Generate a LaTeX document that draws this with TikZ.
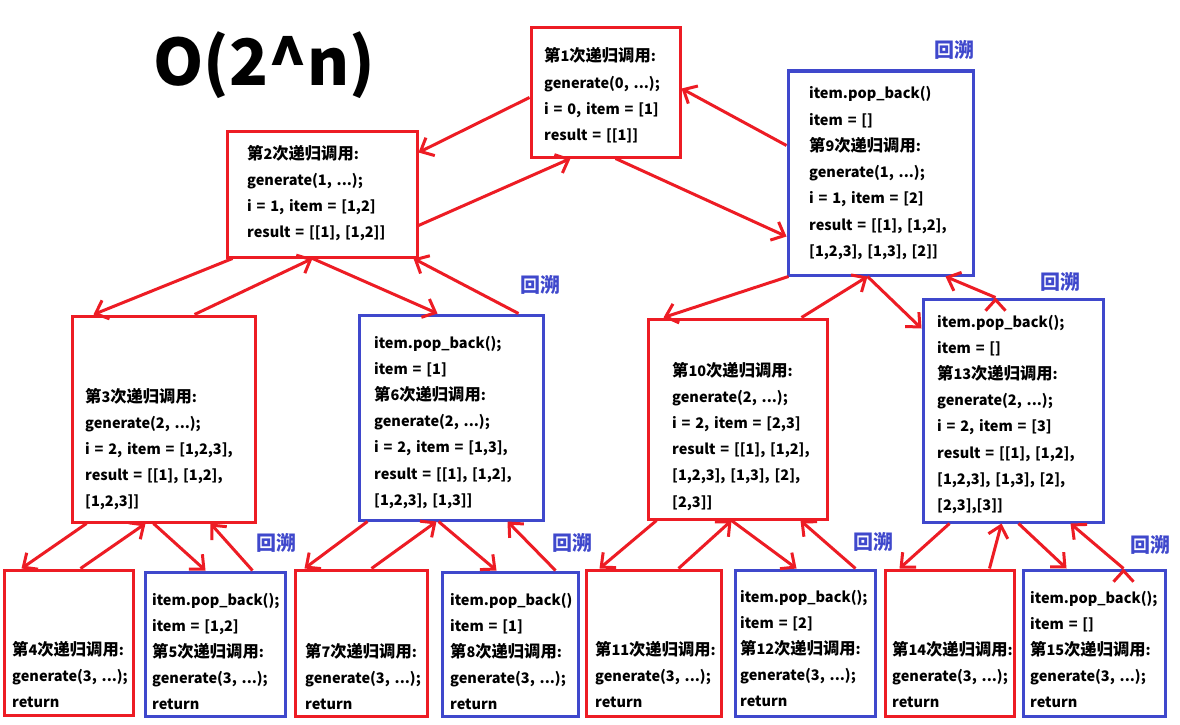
\documentclass[tikz,border=0pt]{standalone}
\usepackage{fontspec}
\setmainfont{Noto Sans CJK SC}
\usetikzlibrary{arrows.meta}
\definecolor{pred}{RGB}{237,28,36}
\definecolor{pblue}{RGB}{63,72,204}

% box of one call: name, style, x1, y1, x2, y2, text x, first line y, text
\newcommand{\callbox}[9]{%
  \node[#2, minimum width={#5-#3}, minimum height={#6-#4}] (#1) at ({(#3+#5)/2},{(#4+#6)/2}) {};
  \node[txt, anchor=base west] (#1t) at (#7,{#8+5}) {#9};
}
\newcommand{\zhbig}{\fontsize{16.3}{26.2}\selectfont}
\newcommand{\callno}[1]{{\zhbig 第}#1{\zhbig 次递归调用}:}

\begin{document}
\begin{tikzpicture}[x=1pt, y=-1pt,
  redbox/.style={draw=pred, line width=3pt, inner sep=0pt, fill=white},
  bluebox/.style={draw=pblue, line width=3pt, inner sep=0pt, fill=white},
  txt/.style={inner sep=0pt, text width=220pt, align=left, font=\fontsize{14.5}{26.2}\selectfont\bfseries},
  back/.style={text=pblue, inner sep=0pt, font=\fontsize{20}{20}\selectfont\bfseries},
  arr/.style={draw=pred, line width=3pt, -{Straight Barb[length=11pt,width=20pt]}}]
\useasboundingbox[fill=white] (0,0) rectangle (1180,725);

\node[inner sep=0pt, anchor=base west, font=\fontsize{64}{64}\selectfont\bfseries] (bigo) at (153,85) {O(2\textasciicircum n)};

% first and second level
\callbox{c1}{redbox}{531}{28}{680}{157}{544}{57}{\callno{1}\\generate(0, ...);\\i = 0, item = [1]\\result = [[1]]}
\callbox{c2}{redbox}{227}{131}{417}{257}{247}{154}{\callno{2}\\generate(1, ...);\\i = 1, item = [1,2]\\result = [[1], [1,2]]}
\callbox{c9}{bluebox}{788}{71}{973}{275}{809}{94}{item.pop\_back()\\item = []\\\callno{9}\\generate(1, ...);\\i = 1, item = [2]\\result = [[1], [1,2],\\{}[1,2,3], [1,3], [2]]}

% third level
\callbox{c3}{redbox}{72}{316}{255}{522}{85}{397}{\callno{3}\\generate(2, ...);\\i = 2, item = [1,2,3],\\result = [[1], [1,2],\\{}[1,2,3]]}
\callbox{c6}{bluebox}{359}{315}{543}{520}{374}{343}{item.pop\_back();\\item = [1]\\\callno{6}\\generate(2, ...);\\i = 2, item = [1,3],\\result = [[1], [1,2],\\{}[1,2,3], [1,3]]}
\callbox{c10}{redbox}{648}{319}{827}{519}{672}{371}{\callno{10}\\generate(2, ...);\\i = 2, item = [2,3]\\result = [[1], [1,2],\\{}[1,2,3], [1,3], [2],\\{}[2,3]]}
\callbox{c13}{bluebox}{923}{299}{1103}{522}{937}{322}{item.pop\_back();\\item = []\\\callno{13}\\generate(2, ...);\\i = 2, item = [3]\\result = [[1], [1,2],\\{}[1,2,3], [1,3], [2],\\{}[2,3],[3]]}

% leaves
\callbox{c4}{redbox}{4}{570}{133}{715}{12}{650}{\callno{4}\\generate(3, ...);\\return}
\callbox{c5}{bluebox}{145}{572}{285}{716}{152}{600}{item.pop\_back();\\item = [1,2]\\\callno{5}\\generate(3, ...);\\return}
\callbox{c7}{redbox}{295}{570}{427}{716}{305}{652}{\callno{7}\\generate(3, ...);\\return}
\callbox{c8}{bluebox}{442}{572}{578}{716}{450}{600}{item.pop\_back()\\item = [1]\\\callno{8}\\generate(3, ...);\\return}
\callbox{c11}{redbox}{586}{570}{721}{716}{595}{650}{\callno{11}\\generate(3, ...);\\return}
\callbox{c12}{bluebox}{735}{570}{875}{716}{740}{597}{item.pop\_back();\\item = [2]\\\callno{12}\\generate(3, ...);\\return}
\callbox{c14}{redbox}{885}{570}{1014}{716}{892}{650}{\callno{14}\\generate(3, ...);\\return}
\callbox{c15}{bluebox}{1023}{570}{1165}{716}{1030}{598}{item.pop\_back();\\item = []\\\callno{15}\\generate(3, ...);\\return}

% backtracking marks
\node[back] (h9) at (954,50) {回溯};
\node[back] (h6) at (540,285) {回溯};
\node[back] (h13) at (1060,282) {回溯};
\node[back] (h5) at (276,543) {回溯};
\node[back] (h8) at (572,543) {回溯};
\node[back] (h12) at (873,542) {回溯};
\node[back] (h15) at (1150,545) {回溯};

\path[arr]
  ([yshift=-71]c1.north west) edge ([yshift=-23]c2.north east)
  ([yshift=-96]c2.north east) edge ([xshift=41]c1.south west)
  ([xshift=86]c1.south west) edge ([yshift=-167]c9.north west)
  ([yshift=-76]c9.north west) edge ([yshift=-62]c1.north east)
  ([xshift=7]c2.south west) edge ([xshift=23]c3.north west)
  ([xshift=124]c3.north west) edge ([xshift=87]c2.south west)
  ([xshift=87]c2.south west) edge ([xshift=80]c6.north west)
  ([xshift=161]c6.north west) edge ([xshift=-5]c2.south east)
  ([xshift=2]c9.south west) edge ([xshift=17]c10.north west)
  ([xshift=155]c10.north west) edge ([xshift=81]c9.south west)
  ([xshift=81]c9.south west) edge ([yshift=-31]c13.north west)
  ([xshift=74]c13.north west) edge ([xshift=159]c9.south west);
\path[arr]
  ([xshift=16]c3.south west) edge ([xshift=19]c4.north west)
  ([xshift=78]c4.north west) edge ([xshift=75]c3.south west)
  ([xshift=83]c3.south west) edge ([xshift=62]c5.north west)
  ([xshift=109]c5.north west) edge ([xshift=140]c3.south west)
  ([xshift=10]c6.south west) edge ([xshift=11]c7.north west)
  ([xshift=78]c7.north west) edge ([xshift=79]c6.south west)
  ([xshift=81]c6.south west) edge ([xshift=56]c8.north west)
  ([xshift=115]c8.north west) edge ([xshift=150]c6.south west)
  ([xshift=10]c10.south west) edge ([xshift=15]c11.north west)
  ([xshift=94]c11.north west) edge ([xshift=85]c10.south west)
  ([xshift=85]c10.south west) edge ([xshift=63]c12.north west)
  ([xshift=122]c12.north west) edge ([xshift=154]c10.south west)
  ([xshift=28]c13.south west) edge ([xshift=16]c14.north west)
  ([xshift=106]c14.north west) edge ([xshift=80]c13.south west)
  ([xshift=97]c13.south west) edge ([xshift=45]c15.north west)
  ([xshift=102]c15.north west) edge ([xshift=149]c13.south west);
\end{tikzpicture}
\end{document}
